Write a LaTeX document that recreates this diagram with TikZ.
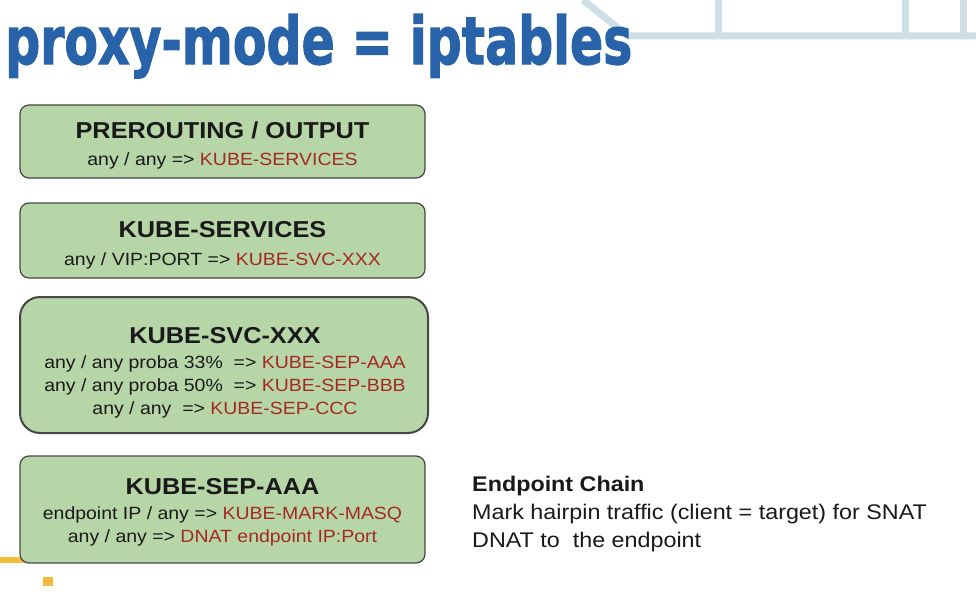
\documentclass[tikz,border=0pt]{standalone}
\usepackage{graphicx}
\usepackage{fontspec}
\setmainfont{Liberation Sans}
\newfontfamily\widefont[FakeStretch=1.1]{Liberation Sans}
\newfontfamily\headfont[BoldFeatures={FakeBold=2}]{DejaVu Sans}

\definecolor{titleblue}{RGB}{40, 98, 168}
\definecolor{boxgreen}{RGB}{183, 214, 168}
\definecolor{boxline}{RGB}{70, 70, 70}
\definecolor{boxtext}{RGB}{25, 25, 25}
\definecolor{chainred}{RGB}{165, 40, 35}
\definecolor{decoblue}{RGB}{205, 222, 228}
\definecolor{decoorange}{RGB}{246, 186, 60}

\begin{document}
\begin{tikzpicture}[x=1pt,y=-1pt,
	chainbox/.style={draw=boxline,fill=boxgreen,line width=1.2pt,rounded corners=9pt,inner sep=0pt},
	chaintitle/.style={anchor=base,inner sep=0pt,text=boxtext,font=\widefont\bfseries\fontsize{23}{26}\selectfont},
	chainrule/.style={anchor=base,inner sep=0pt,text=boxtext,font=\widefont\fontsize{17.7}{20}\selectfont},
	notetext/.style={anchor=base west,inner sep=0pt,text=boxtext,font=\widefont\fontsize{21.2}{24}\selectfont}]
					\useasboundingbox (0,0) rectangle (976,602);
					% slide decoration
					\draw[decoblue,line width=7pt] (583,0) -- (628,36) -- (976,36);
					\draw[decoblue,line width=7pt] (718,0) -- (718,36) (905,0) -- (905,36) (963,0) -- (963,36);
					\draw[decoorange,line width=6.5pt] (0,560) -- (34,560);
					\fill[decoorange] (43,577) rectangle (53,586);
					\node[anchor=base west,inner sep=0pt,text=titleblue] at (5,64) (heading) {\resizebox{627pt}{50pt}{\headfont\bfseries proxy-mode = iptables}};
					% chains
					\node[chainbox,minimum width=405pt,minimum height=73pt] at (222.5,141.5) (pre) {};
					\node[chaintitle] at (222.5,138.5) (pre0) {PREROUTING / OUTPUT};
					\node[chainrule]  at (222.5,165)   (pre1) {any / any => \textcolor{chainred}{KUBE-SERVICES}};
					\node[chainbox,minimum width=405pt,minimum height=75pt] at (222.5,240.5) (svc) {};
					\node[chaintitle] at (222.5,237)   (svc0) {KUBE-SERVICES};
					\node[chainrule]  at (222.5,265.5) (svc1) {any / VIP:PORT => \textcolor{chainred}{KUBE-SVC-XXX}};
					\node[chainbox,line width=2pt,rounded corners=20pt,minimum width=408pt,minimum height=136pt] at (224,365) (xxx) {};
					\node[chaintitle] at (225,343) (xxx0) {KUBE-SVC-XXX};
					\node[chainrule]  at (225,368) (xxx1) {any / any proba 33\%~ => \textcolor{chainred}{KUBE-SEP-AAA}};
					\node[chainrule]  at (225,391) (xxx2) {any / any proba 50\%~ => \textcolor{chainred}{KUBE-SEP-BBB}};
					\node[chainrule]  at (225,414) (xxx3) {any / any~ => \textcolor{chainred}{KUBE-SEP-CCC}};
					\node[chainbox,minimum width=405pt,minimum height=107pt] at (222.5,509.5) (sep) {};
					\node[chaintitle] at (222.5,494) (sep0) {KUBE-SEP-AAA};
					\node[chainrule]  at (222.5,519) (sep1) {endpoint IP / any => \textcolor{chainred}{KUBE-MARK-MASQ}};
					\node[chainrule]  at (222.5,542) (sep2) {any / any => \textcolor{chainred}{DNAT endpoint IP:Port}};
					% note
					\node[notetext,font=\widefont\bfseries\fontsize{21.2}{24}\selectfont] at (472,491) (note0) {Endpoint Chain};
					\node[notetext] at (472,519) (note1) {Mark hairpin traffic (client = target) for SNAT};
					\node[notetext] at (472,547) (note2) {DNAT to~ the endpoint};
				\end{tikzpicture}
\end{document}
